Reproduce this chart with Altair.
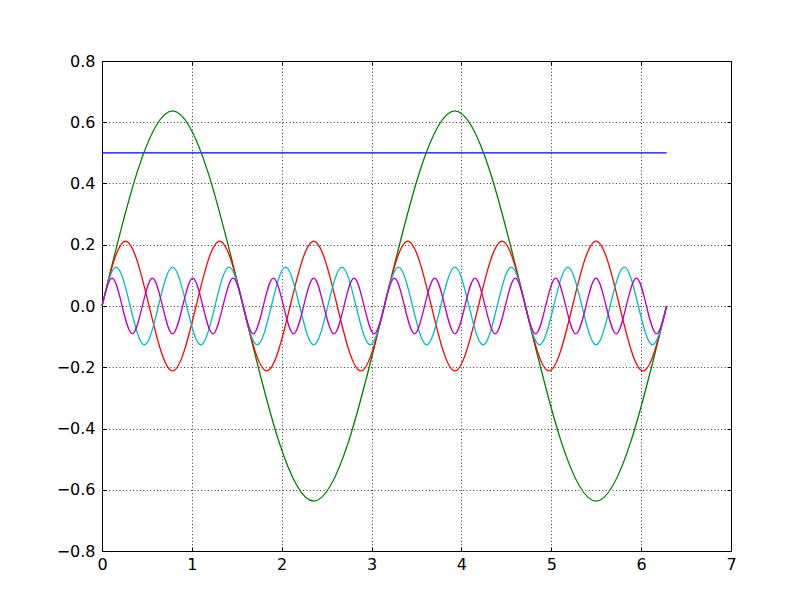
import altair as alt
import pandas as pd

# constant term
blue_x = [0.0, 6.283]
blue_y = [0.5, 0.5]

# values read at quarter periods (zeros and extremes)
green_x = [0.0, 0.785, 1.571, 2.356, 3.142, 3.927, 4.712, 5.498, 6.283]
green_y = [0.0, 0.637, 0.0, -0.637, 0.0, 0.637, 0.0, -0.637, 0.0]

red_x = [0.0, 0.262, 0.524, 0.785, 1.047, 1.309, 1.571, 1.833, 2.094, 2.356,
         2.618, 2.880, 3.142, 3.403, 3.665, 3.927, 4.189, 4.451, 4.712, 4.974,
         5.236, 5.498, 5.760, 6.021, 6.283]
red_y = [0.0, 0.212, 0.0, -0.212, 0.0, 0.212, 0.0, -0.212, 0.0, 0.212,
         0.0, -0.212, 0.0, 0.212, 0.0, -0.212, 0.0, 0.212, 0.0, -0.212,
         0.0, 0.212, 0.0, -0.212, 0.0]

cyan_x = [0.0, 0.157, 0.314, 0.471, 0.628, 0.785, 0.942, 1.100, 1.257, 1.414,
          1.571, 1.728, 1.885, 2.042, 2.199, 2.356, 2.513, 2.670, 2.827, 2.985,
          3.142, 3.299, 3.456, 3.613, 3.770, 3.927, 4.084, 4.241, 4.398, 4.555,
          4.712, 4.869, 5.027, 5.184, 5.341, 5.498, 5.655, 5.812, 5.969, 6.126,
          6.283]
cyan_y = [0.0, 0.127, 0.0, -0.127, 0.0, 0.127, 0.0, -0.127, 0.0, 0.127,
          0.0, -0.127, 0.0, 0.127, 0.0, -0.127, 0.0, 0.127, 0.0, -0.127,
          0.0, 0.127, 0.0, -0.127, 0.0, 0.127, 0.0, -0.127, 0.0, 0.127,
          0.0, -0.127, 0.0, 0.127, 0.0, -0.127, 0.0, 0.127, 0.0, -0.127,
          0.0]

magenta_x = [0.0, 0.112, 0.224, 0.337, 0.449, 0.561, 0.673, 0.785, 0.898, 1.010,
             1.122, 1.234, 1.346, 1.459, 1.571, 1.683, 1.795, 1.907, 2.020, 2.132,
             2.244, 2.356, 2.468, 2.581, 2.693, 2.805, 2.917, 3.029, 3.142, 3.254,
             3.366, 3.478, 3.590, 3.703, 3.815, 3.927, 4.039, 4.151, 4.264, 4.376,
             4.488, 4.600, 4.712, 4.825, 4.937, 5.049, 5.161, 5.273, 5.386, 5.498,
             5.610, 5.722, 5.834, 5.947, 6.059, 6.171, 6.283]
magenta_y = [0.0, 0.091, 0.0, -0.091, 0.0, 0.091, 0.0, -0.091, 0.0, 0.091,
             0.0, -0.091, 0.0, 0.091, 0.0, -0.091, 0.0, 0.091, 0.0, -0.091,
             0.0, 0.091, 0.0, -0.091, 0.0, 0.091, 0.0, -0.091, 0.0, 0.091,
             0.0, -0.091, 0.0, 0.091, 0.0, -0.091, 0.0, 0.091, 0.0, -0.091,
             0.0, 0.091, 0.0, -0.091, 0.0, 0.091, 0.0, -0.091, 0.0, 0.091,
             0.0, -0.091, 0.0, 0.091, 0.0, -0.091, 0.0]

x_ticks = [0, 1, 2, 3, 4, 5, 6, 7]
y_ticks = [-0.8, -0.6, -0.4, -0.2, 0.0, 0.2, 0.4, 0.6, 0.8]

FONT = "DejaVu Sans"
TICK = 4

xscale = alt.Scale(domain=[0, 7], nice=False, zero=False)
yscale = alt.Scale(domain=[-0.8, 0.8], nice=False, zero=False)

grid_style = dict(grid=True, gridColor="#000000", gridWidth=0.8, gridDash=[1, 2.4], gridOpacity=1)

ax_bottom = alt.Axis(orient="bottom", values=x_ticks, format="d", offset=-TICK, tickSize=TICK,
                     tickColor="black", domain=False, labelPadding=5, labelFont=FONT,
                     labelFontSize=16, labelColor="black", labelFlush=False, labelOverlap=False,
                     title=None, **grid_style)
ax_left = alt.Axis(orient="left", values=y_ticks, format=".1f", offset=-TICK, tickSize=TICK,
                   tickColor="black", domain=False, labelPadding=7, labelFont=FONT,
                   labelFontSize=16, labelColor="black", labelFlush=False, labelOverlap=False,
                   title=None, **grid_style)
ax_top = alt.Axis(orient="top", values=x_ticks, offset=-TICK, tickSize=TICK, tickColor="black",
                  domain=False, labels=False, grid=False, title=None)
ax_right = alt.Axis(orient="right", values=y_ticks, offset=-TICK, tickSize=TICK, tickColor="black",
                    domain=False, labels=False, grid=False, title=None)


def series(xs, ys, color, xaxis, yaxis):
    df = pd.DataFrame({"x": xs, "y": ys})
    return alt.Chart(df).mark_line(color=color, strokeWidth=1.3, interpolate="natural").encode(
        x=alt.X("x:Q", scale=xscale, axis=xaxis),
        y=alt.Y("y:Q", scale=yscale, axis=yaxis),
    )


chart = alt.layer(
    series(blue_x, blue_y, "#0000ff", ax_bottom, ax_left),
    series(green_x, green_y, "#008000", ax_top, ax_right),
    series(red_x, red_y, "#ff0000", None, None),
    series(cyan_x, cyan_y, "#00bfbf", None, None),
    series(magenta_x, magenta_y, "#bf00bf", None, None),
).resolve_axis(x="independent", y="independent").properties(
    width=629, height=490,
    autosize=alt.AutoSizeParams(type="none"),
    padding={"left": 94, "top": 53, "right": 73, "bottom": 53},
    background="white",
).configure_view(stroke="black", strokeWidth=1)

chart.save("out.html", embed_options={"renderer": "svg", "actions": False})
